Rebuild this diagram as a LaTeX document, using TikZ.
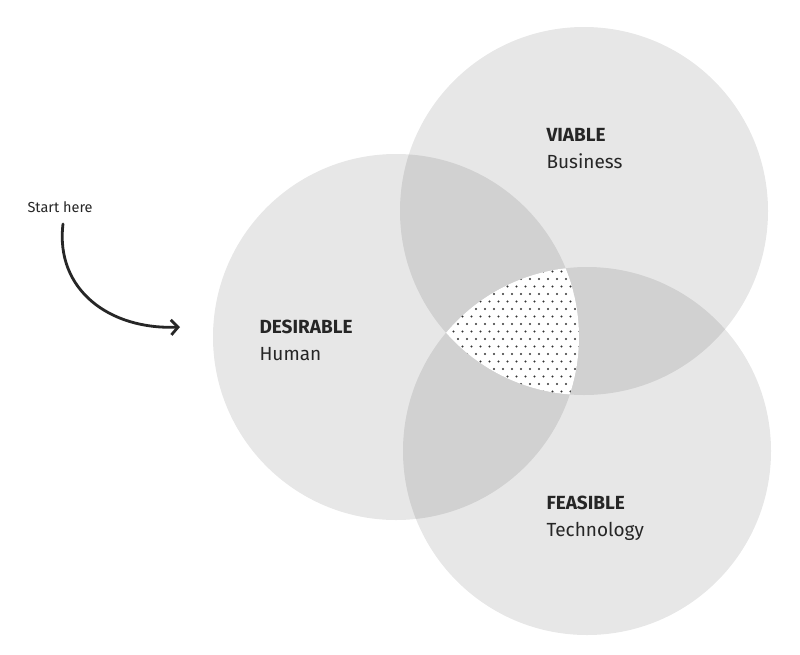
\documentclass[tikz,border=0pt]{standalone}
\usepackage{fontspec}
\setmainfont{Fira Sans}
\usetikzlibrary{arrows.meta}
\begin{document}
\begin{tikzpicture}[x=1pt,y=-1pt,
  circ/.style={fill=black,fill opacity=0.095},
  title/.style={anchor=base west,font=\fontsize{19}{22}\selectfont\bfseries,text=black!85},
  sub/.style={anchor=base west,font=\fontsize{19}{22}\selectfont,text=black!85}]
\useasboundingbox[fill=white] (0,0) rectangle (800,654);
\coordinate (d) at (396,337);
\coordinate (v) at (584,211);
\coordinate (f) at (587,451);
\fill[circ] (d) circle (183);
\fill[circ] (v) circle (184);
\fill[circ] (f) circle (184);
\begin{scope}
\clip (d) circle (183);
\clip (v) circle (184);
\clip (f) circle (184);
\fill[white] (430,260) rectangle (600,400);
\foreach \j in {0,...,18}{
  \pgfmathsetmacro{\yy}{264+\j*7.5}
  \pgfmathsetmacro{\off}{mod(\j,2)*4.5}
  \foreach \i in {0,...,19}{
    \fill[black!80] (440+\off+\i*9,\yy) circle (1.1);
  }
}
\end{scope}
\node[title] (dt) at (256,333) {DESIRABLE};
\node[sub] (ds) at (256,360) {Human};
\node[title] (vt) at (543,141) {VIABLE};
\node[sub] (vs) at (543,168) {Business};
\node[title] (ft) at (543,509) {FEASIBLE};
\node[sub] (fs) at (543,536) {Technology};
\node[anchor=base west,font=\fontsize{14.5}{16}\selectfont,text=black!85] (st) at (24,212) {Start here};
\coordinate (a1) at (63,224);
\coordinate (a2) at (180,327);
\draw[line width=2.8pt,line cap=round,-{Straight Barb[length=7pt,width=15pt,line width=2.8pt]},black!85]
  (a1) .. controls (55,290) and (110,330) .. (a2);
\end{tikzpicture}
\end{document}
